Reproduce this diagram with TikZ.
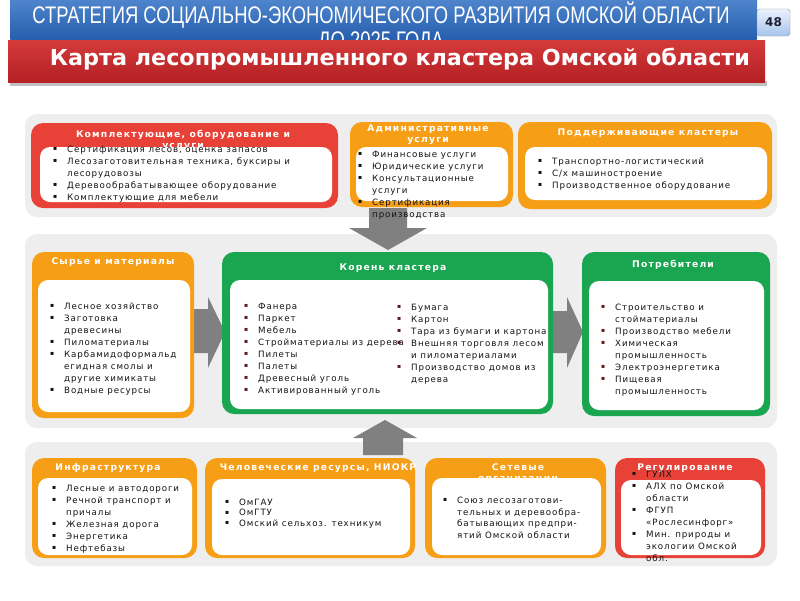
\documentclass[tikz,border=0pt]{standalone}
\usepackage{fontspec}
\usepackage{graphicx}
\setmainfont{DejaVu Sans}
\newfontfamily\bodyf[LetterSpace=10]{DejaVu Sans}
\newfontfamily\ttlf[LetterSpace=13]{DejaVu Sans}
\newfontfamily\hdrf{Liberation Sans}
\definecolor{cred}{RGB}{232,66,56}
\definecolor{corange}{RGB}{246,158,22}
\definecolor{cgreen}{RGB}{26,166,80}
\definecolor{cband}{RGB}{238,238,238}
\definecolor{carrow}{RGB}{128,128,128}
\definecolor{hblA}{RGB}{85,140,210}
\definecolor{hblB}{RGB}{35,90,170}
\definecolor{rbarA}{RGB}{212,58,58}
\definecolor{rbarB}{RGB}{180,32,36}
\definecolor{cshadow}{RGB}{150,150,150}
\definecolor{cbul}{RGB}{95,25,25}
\definecolor{pgA}{RGB}{235,243,255}
\definecolor{pgB}{RGB}{165,195,235}
\definecolor{ctext}{RGB}{20,20,20}
\newcommand\bu{\makebox[14pt][l]{\raisebox{1.6pt}{\normalfont\fontsize{6}{6}\selectfont ▪}}}
\newcommand\bur{\makebox[14pt][l]{\raisebox{1.6pt}{\normalfont\fontsize{6}{6}\selectfont\color{cbul}▪}}}
\newcommand\ind{\hspace*{14pt}}
\newcommand\fl{\rule{0pt}{7pt}}
\begin{document}
\begin{tikzpicture}[x=1pt,y=-1pt,
  band/.style={fill=cband, rounded corners=12pt},
  outerbox/.style={rounded corners=12pt},
  innerbox/.style={fill=white, rounded corners=10pt},
  blockarrow/.style={fill=carrow},
  ttl/.style={text=white, inner sep=0pt, anchor=north, align=center,
    font=\ttlf\bfseries\fontsize{9.2}{11}\selectfont},
  lst/.style={anchor=north west, inner sep=0pt, align=left, text=ctext,
    font=\bodyf\fontsize{8.7}{12}\selectfont}]
\useasboundingbox (0,0) rectangle (800,600);
\fill[white] (0,0) rectangle (800,600);

% ---------- header ----------
\shade[top color=hblA, bottom color=hblB, rounded corners=6pt] (10,-8) rectangle (757,44);
\node[anchor=north, inner sep=0pt, text=white] (hdr) at (381,2)
  {\hdrf\fontsize{24}{25}\selectfont\resizebox{697pt}{\height}{\begin{tabular}{@{}c@{}}СТРАТЕГИЯ СОЦИАЛЬНО-ЭКОНОМИЧЕСКОГО РАЗВИТИЯ ОМСКОЙ ОБЛАСТИ\\ДО 2025 ГОДА\end{tabular}}};
\shade[top color=pgA, bottom color=pgB, draw=cshadow, rounded corners=3pt] (757,9) rectangle (790,36);
\node[inner sep=0pt, text={rgb,255:red,30;green,30;blue,50}, font=\bfseries\fontsize{12}{12}\selectfont] (pg) at (773.5,22.5) {48};
\fill[cshadow!60] (10,81) rectangle (767,86);
\shade[top color=rbarA, bottom color=rbarB] (8,40) rectangle (765,82);
\node[inner sep=0pt, text=white] (title) at (400,59)
  {\bfseries\fontsize{22}{22}\selectfont\resizebox{700pt}{\height}{Карта лесопромышленного кластера Омской области}};

% ---------- bands ----------
\fill[band] (25,114) rectangle (777,217);
\fill[band] (25,234) rectangle (777,428);
\fill[band] (25,442) rectangle (777,566);

% ---------- block arrows ----------
\fill[blockarrow] (369,208) -- (407,208) -- (407,228) -- (427,228) -- (388,250) -- (349,228) -- (369,228) -- cycle;
\fill[blockarrow] (193,309) -- (208,309) -- (208,297) -- (225,332) -- (208,368) -- (208,353) -- (193,353) -- cycle;
\fill[blockarrow] (553,311) -- (567,311) -- (567,297) -- (583,332) -- (567,368) -- (567,353) -- (553,353) -- cycle;
\fill[blockarrow] (363,455) -- (363,438) -- (353,438) -- (385,420) -- (417,438) -- (403,438) -- (403,455) -- cycle;

% ---------- top row ----------
\fill[outerbox, cred] (31,123) rectangle (338,208);
\node[ttl] (t1) at (183,130.5) {\fl Комплектующие, оборудование и\\услуги};
\fill[innerbox] (40,147) rectangle (332,202);
\fill[outerbox, corange] (350,122) rectangle (513,207);
\node[ttl] (t2) at (428,124.5) {\fl Административные\\услуги};
\fill[innerbox] (356,147) rectangle (508,201);
\fill[outerbox, corange] (518,122) rectangle (772,209);
\node[ttl] (t3) at (648,128.5) {\fl Поддерживающие кластеры};
\fill[innerbox] (525,147) rectangle (767,200);

\node[lst] (l1) at (53,145.3) {\fl\bu Сертификация лесов, оценка запасов\\
\bu Лесозаготовительная техника, буксиры и\\
\ind лесорудовозы\\
\bu Деревообрабатывающее оборудование\\
\bu Комплектующие для мебели};
\node[lst] (l2) at (358,150.3) {\fl\bu Финансовые услуги\\
\bu Юридические услуги\\
\bu Консультационные\\
\ind услуги\\
\bu Сертификация\\
\ind производства};
\node[lst] (l3) at (538,157.3) {\fl\bu Транспортно-логистический\\
\bu С/х машиностроение\\
\bu Производственное оборудование};

% ---------- middle row ----------
\fill[outerbox, corange] (32,252) rectangle (194,418);
\node[ttl] (t4) at (113,257.5) {\fl Сырье и материалы};
\fill[innerbox] (38,280) rectangle (190,412);
\fill[outerbox, cgreen] (222,252) rectangle (553,414);
\node[ttl] (t5) at (393,263.5) {\fl Корень кластера};
\fill[innerbox] (230,280) rectangle (548,409);
\fill[outerbox, cgreen] (582,252) rectangle (770,416);
\node[ttl] (t6) at (673,260.5) {\fl Потребители};
\fill[innerbox] (589,281) rectangle (764,410);

\node[lst] (l4) at (50,302.3) {\fl\bu Лесное хозяйство\\
\bu Заготовка\\
\ind древесины\\
\bu Пиломатериалы\\
\bu Карбамидоформальд\\
\ind егидная смолы и\\
\ind другие химикаты\\
\bu Водные ресурсы};
\node[lst] (l5) at (244,302.3) {\fl\bur Фанера\\
\bur Паркет\\
\bur Мебель\\
\bur Стройматериалы из дерева\\
\bur Пилеты\\
\bur Палеты\\
\bur Древесный уголь\\
\bur Активированный уголь};
\node[lst] (l6) at (397,303.3) {\fl\bur Бумага\\
\bur Картон\\
\bur Тара из бумаги и картона\\
\bur Внешняя торговля лесом\\
\ind и пиломатериалами\\
\bur Производство домов из\\
\ind дерева};
\node[lst] (l7) at (601,303.3) {\fl\bur Строительство и\\
\ind стойматериалы\\
\bur Производство мебели\\
\bur Химическая\\
\ind промышленность\\
\bur Электроэнергетика\\
\bur Пищевая\\
\ind промышленность};

% ---------- bottom row ----------
\fill[outerbox, corange] (32,458) rectangle (197,558);
\node[ttl] (t7) at (108,463.5) {\fl Инфраструктура};
\fill[innerbox] (38,478) rectangle (192,555);
\fill[outerbox, corange] (205,458) rectangle (415,558);
\node[ttl] (t8) at (318,463.5) {\fl Человеческие ресурсы, НИОКР};
\fill[innerbox] (212,479) rectangle (410,555);
\fill[outerbox, corange] (425,458) rectangle (606,558);
\node[ttl] (t9) at (518,463.5) {\fl Сетевые\\организации};
\fill[innerbox] (432,478) rectangle (601,555);
\fill[outerbox, cred] (615,458) rectangle (765,558);
\node[ttl] (t10) at (685,463.5) {\fl Регулирование};
\fill[innerbox] (621,480) rectangle (761,555);

\node[lst] (l8) at (52,484.3) {\fl\bu Лесные и автодороги\\
\bu Речной транспорт и\\
\ind причалы\\
\bu Железная дорога\\
\bu Энергетика\\
\bu Нефтебазы};
\node[lst, font=\bodyf\fontsize{8.7}{10.4}\selectfont] (l9) at (225,498.3) {\fl\bu ОмГАУ\\
\bu ОмГТУ\\
\bu Омский сельхоз. техникум};
\node[lst, font=\bodyf\fontsize{8.7}{11.7}\selectfont] (l10) at (443,496.3) {\fl\bu Союз лесозаготови-\\
\ind тельных и деревообра-\\
\ind батывающих предпри-\\
\ind ятий Омской области};
\node[lst] (l11) at (632,470.3) {\fl\bu ГУЛХ\\
\bu АЛХ по Омской\\
\ind области\\
\bu ФГУП\\
\ind «Рослесинфорг»\\
\bu Мин. природы и\\
\ind экологии Омской\\
\ind обл.};
\end{tikzpicture}
\end{document}
